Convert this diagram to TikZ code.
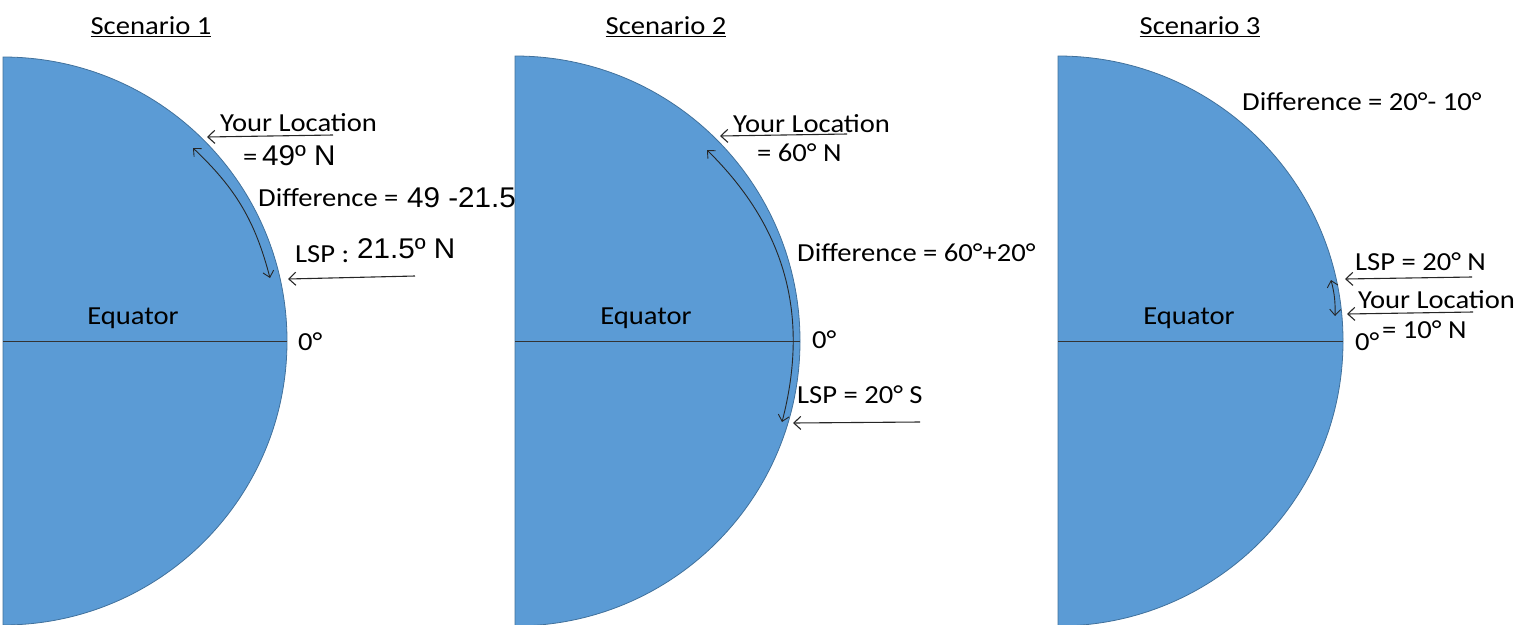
\documentclass[tikz,border=0pt]{standalone}
\usepackage{fontspec}
\setmainfont{Carlito}[FakeStretch=1.1]
\newfontfamily\arialf{Liberation Sans}[FakeStretch=1.04]
\usetikzlibrary{arrows.meta}
\definecolor{discblue}{HTML}{5B9BD5}
\definecolor{discedge}{HTML}{41719C}
\begin{document}
\begin{tikzpicture}[x=1pt,y=-1pt,
  disc/.style={fill=discblue, draw=discedge, line width=0.8pt},
  lbl/.style={inner sep=0pt, font=\fontsize{26}{30}\selectfont},
  wlbl/.style={lbl, anchor=west},
  blbl/.style={lbl, anchor=base west},
  big/.style={font=\fontsize{28.5}{32}\selectfont\arialf},
  ptr/.style={-{Straight Barb[length=7pt,width=13pt]}, line width=1.1pt, draw=black!85},
  span/.style={{Straight Barb[length=6pt,width=11pt]}-{Straight Barb[length=6pt,width=11pt]}, line width=0.9pt, draw=black!85},
  eqline/.style={line width=0.9pt, draw=black!80}]
\useasboundingbox (0,0) rectangle (1536,624);

% ---------- discs ----------
\draw[disc] (3,57) arc[start angle=-90, end angle=90, radius=284] -- cycle;
\draw[disc] (515,56) arc[start angle=-90, end angle=90, radius=285] -- cycle;
\draw[disc] (1058,56) arc[start angle=-90, end angle=90, radius=285] -- cycle;

% equator lines
\coordinate (e1l) at (3,341);   \coordinate (e1r) at (287,341);
\coordinate (e2l) at (515,341); \coordinate (e2r) at (800,341);
\coordinate (e3l) at (1058,341);\coordinate (e3r) at (1343,341);
\draw[eqline] (e1l) -- (e1r);
\draw[eqline] (e2l) -- (e2r);
\draw[eqline] (e3l) -- (e3r);

% ---------- titles ----------
\node[lbl] (t1) at (151,27) {\underline{Scenario 1}};
\node[lbl] (t2) at (666,27) {\underline{Scenario 2}};
\node[lbl] (t3) at (1200,27) {\underline{Scenario 3}};

% ---------- scenario 1 ----------
\node[lbl] (eq1) at (133,318) {Equator};
\node[wlbl] (z1) at (298,342) {0°};
\node[wlbl] (yl1) at (220,123) {Your Location};
\node[blbl] (yv1a) at (243,165) {=};
\node[blbl, big] (yv1) at (262,165) {49º N};
\node[blbl] (df1) at (258,206) {Difference =};
\node[blbl, big] (dv1) at (407,207) {49 -21.5};
\node[blbl] (ls1) at (295,262) {LSP :};
\node[blbl, big] (lv1) at (357,258) {21.5º N};
\coordinate (a1s) at (333,135); \coordinate (a1e) at (207,137);
\coordinate (b1s) at (415,276); \coordinate (b1e) at (288,279);
\coordinate (c1a) at (193,148); \coordinate (c1b) at (270,278);
\draw[ptr] (a1s) -- (a1e);
\draw[ptr] (b1s) -- (b1e);
\draw[span] (c1a) to[bend left=16] (c1b);

% ---------- scenario 2 ----------
\node[lbl] (eq2) at (646,318) {Equator};
\node[wlbl] (z2) at (812,340) {0°};
\node[wlbl] (yl2) at (733,124) {Your Location};
\node[wlbl] (yv2) at (757,153) {= 60° N};
\node[wlbl] (df2) at (797,253) {Difference = 60°+20°};
\node[wlbl] (ls2) at (797,395) {LSP = 20° S};
\coordinate (a2s) at (847,134); \coordinate (a2e) at (720,136);
\coordinate (b2s) at (920,422); \coordinate (b2e) at (793,423);
\coordinate (c2a) at (707,150); \coordinate (c2b) at (782,422);
\draw[ptr] (a2s) -- (a2e);
\draw[ptr] (b2s) -- (b2e);
\draw[span] (c2a) to[bend left=30] (c2b);

% ---------- scenario 3 ----------
\node[lbl] (eq3) at (1189,318) {Equator};
\node[wlbl] (z3) at (1355,342) {0°};
\node[wlbl] (df3) at (1242,102) {Difference = 20°- 10°};
\node[wlbl] (ls3) at (1355,262) {LSP = 20° N};
\node[wlbl] (yl3) at (1358,300) {Your Location};
\node[wlbl] (yv3) at (1382,330) {= 10° N};
\coordinate (a3s) at (1472,277); \coordinate (a3e) at (1345,279);
\coordinate (b3s) at (1473,312); \coordinate (b3e) at (1347,314);
\coordinate (c3a) at (1331,280); \coordinate (c3b) at (1335,316);
\draw[ptr] (a3s) -- (a3e);
\draw[ptr] (b3s) -- (b3e);
\draw[span] (c3a) to[bend left=8] (c3b);
\end{tikzpicture}
\end{document}
